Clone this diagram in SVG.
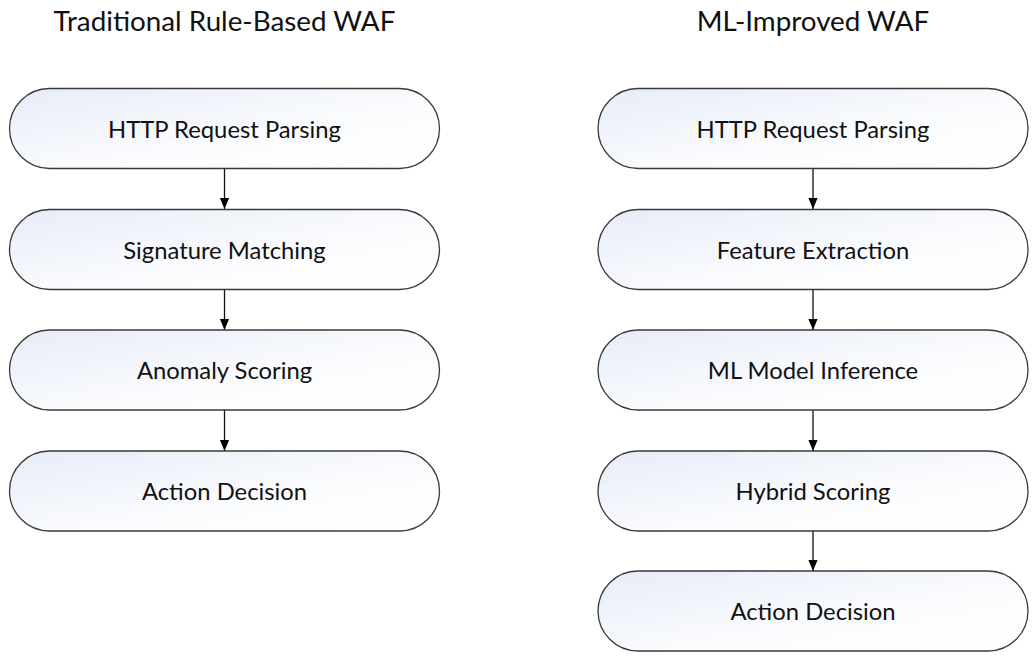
<svg xmlns="http://www.w3.org/2000/svg" width="1036" height="662" viewBox="0 0 1036 662">
<style>
.node{fill:url(#g);stroke:#3a3a3a;stroke-width:1.3}
.lbl{font-family:Lato,"Liberation Sans",sans-serif;font-size:23.8px;fill:#111;text-anchor:middle;dominant-baseline:central}
.ttl{font-family:Lato,"Liberation Sans",sans-serif;font-size:27.8px;fill:#111;text-anchor:middle}
.edge{stroke:#111;stroke-width:1.3;fill:none;marker-end:url(#a)}
</style>
<defs>
<linearGradient id="g" x1="0" y1="0" x2="1" y2="1">
<stop offset="0" stop-color="#e6ecf7"/>
<stop offset="0.6" stop-color="#fbfcfe"/>
<stop offset="1" stop-color="#ffffff"/>
</linearGradient>
<marker id="a" markerWidth="11" markerHeight="12" refX="12" refY="5.5" orient="auto" markerUnits="userSpaceOnUse" viewBox="0 0 12 11">
<path d="M0,0.5 L12,5.5 L0,10.5 Z" fill="#000"/>
</marker>
</defs>
<rect width="1036" height="662" fill="#fff"/>
<text class="ttl" x="224.5" y="31">Traditional Rule-Based WAF</text>
<text class="ttl" x="813" y="31">ML-Improved WAF</text>
<g id="connectors">
<line class="edge" x1="224.5" y1="169" x2="224.5" y2="209"/>
<line class="edge" x1="224.5" y1="290" x2="224.5" y2="330"/>
<line class="edge" x1="224.5" y1="410" x2="224.5" y2="451"/>
<line class="edge" x1="813" y1="169" x2="813" y2="209"/>
<line class="edge" x1="813" y1="290" x2="813" y2="330"/>
<line class="edge" x1="813" y1="410" x2="813" y2="451"/>
<line class="edge" x1="813" y1="531" x2="813" y2="571"/>
</g>
<g id="l1"><rect class="node" x="9.5" y="88.5" width="430" height="80" rx="40"/><text class="lbl" x="224.5" y="128.5">HTTP Request Parsing</text></g>
<g id="l2"><rect class="node" x="9.5" y="209.5" width="430" height="80" rx="40"/><text class="lbl" x="224.5" y="249.5">Signature Matching</text></g>
<g id="l3"><rect class="node" x="9.5" y="330" width="430" height="80" rx="40"/><text class="lbl" x="224.5" y="370">Anomaly Scoring</text></g>
<g id="l4"><rect class="node" x="9.5" y="451" width="430" height="80" rx="40"/><text class="lbl" x="224.5" y="491">Action Decision</text></g>
<g id="r1"><rect class="node" x="598" y="88.5" width="430" height="80" rx="40"/><text class="lbl" x="813" y="128.5">HTTP Request Parsing</text></g>
<g id="r2"><rect class="node" x="598" y="209.5" width="430" height="80" rx="40"/><text class="lbl" x="813" y="249.5">Feature Extraction</text></g>
<g id="r3"><rect class="node" x="598" y="330" width="430" height="80" rx="40"/><text class="lbl" x="813" y="370">ML Model Inference</text></g>
<g id="r4"><rect class="node" x="598" y="451" width="430" height="80" rx="40"/><text class="lbl" x="813" y="491">Hybrid Scoring</text></g>
<g id="r5"><rect class="node" x="598" y="571" width="430" height="80" rx="40"/><text class="lbl" x="813" y="611">Action Decision</text></g>
</svg>
